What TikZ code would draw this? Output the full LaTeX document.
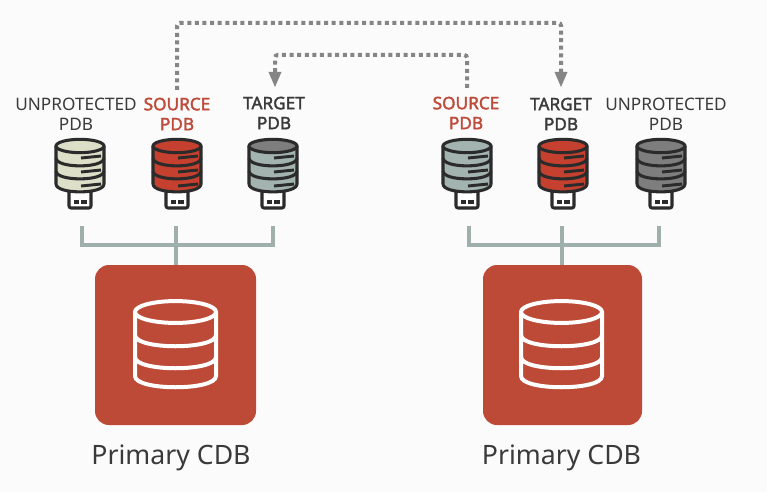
\documentclass[tikz,border=0pt]{standalone}
\usepackage{fontspec}
\setmainfont{Noto Sans}
\newfontfamily\semibold[FakeBold=2]{Noto Sans}
\usetikzlibrary{arrows.meta}
\definecolor{pagebg}{HTML}{FBFBFC}
\definecolor{boxred}{HTML}{BD4A36}
\definecolor{dbred}{HTML}{C5402E}
\definecolor{dbcream}{HTML}{DEDFC8}
\definecolor{dbsage}{HTML}{A3B3B0}
\definecolor{dbgray}{HTML}{7E7E7E}
\definecolor{inkdark}{HTML}{2B2B2B}
\definecolor{textdark}{HTML}{3A3A3A}
\definecolor{textred}{HTML}{BE4A3A}
\definecolor{linksage}{HTML}{9FB0AC}
\definecolor{linkgray}{HTML}{858585}
\tikzset{
  pdblabel/.style={font=\fontsize{12.9pt}{15pt}\selectfont, text=textdark, align=center, inner sep=0pt},
  pdbbold/.style={pdblabel, font=\fontsize{12.9pt}{15pt}\semibold},
  pdbred/.style={pdbbold, text=textred},
  cdblabel/.style={font=\fontsize{20pt}{23pt}\selectfont, text=textdark, inner sep=0pt},
  cdbbox/.style={fill=boxred, rounded corners=10.5pt, draw=none},
  treeline/.style={draw=linksage, line width=3pt},
  dotlink/.style={draw=linkgray, line width=3pt, dash pattern=on 3pt off 2.7pt, rounded corners=2pt},
  tiphead/.style={fill=linkgray, draw=none},
  iconline/.style={draw=white, line width=3pt},
  dbline/.style={draw=inkdark, line width=2.3pt, line join=round},
  dbtick/.style={draw=inkdark, line width=2.2pt}
}
\newcommand{\pdbicon}[3]{%
  % usb plug
  \draw[dbline, fill=white, rounded corners=1.5pt] (#1-11,188) rectangle (#1+11,208);
  \fill[inkdark] (#1-6.5,199.5) rectangle (#1-1,204);
  \fill[inkdark] (#1+1,199.5) rectangle (#1+6.5,204);
  % body
  \draw[dbline, fill=#2] (#1-24,146) -- (#1-24,184) .. controls (#1-24,194.5) and (#1+24,194.5) .. (#1+24,184) -- (#1+24,146) -- cycle;
  \draw[dbline] (#1-24,158) .. controls (#1-24,168.5) and (#1+24,168.5) .. (#1+24,158);
  \draw[dbline] (#1-24,171) .. controls (#1-24,181.5) and (#1+24,181.5) .. (#1+24,171);
  \draw[dbline, fill=#3] (#1,146) ellipse [x radius=18pt, y radius=5pt];
  \draw[dbtick] (#1+1,158) -- (#1+21,156);
  \draw[dbtick] (#1+1,172) -- (#1+21,170);
  \draw[dbtick] (#1+1,186) -- (#1+21,184);
}
\newcommand{\cdbicon}[1]{%
  \draw[iconline] (#1-40.5,312) -- (#1-40.5,376) .. controls (#1-40.5,391) and (#1+40.5,391) .. (#1+40.5,376) -- (#1+40.5,312);
  \draw[iconline] (#1-40.5,335) .. controls (#1-40.5,350) and (#1+40.5,350) .. (#1+40.5,335);
  \draw[iconline] (#1-40.5,357) .. controls (#1-40.5,372) and (#1+40.5,372) .. (#1+40.5,357);
  \draw[iconline] (#1,312) ellipse [x radius=30.4pt, y radius=8.2pt];
}
\begin{document}
\begin{tikzpicture}[x=0.75pt,y=-0.75pt]
\path[use as bounding box, fill=pagebg] (0,0) rectangle (767,492);

% labels
\node[pdblabel] (lunp) at (76,114.5) {UNPROTECTED\\PDB};
\node[pdbred]   (lsrc) at (177,114) {SOURCE\\PDB};
\node[pdbbold]  (ltgt) at (274,113) {TARGET\\PDB};
\node[pdbred]   (rsrc) at (466,113) {SOURCE\\PDB};
\node[pdbbold]  (rtgt) at (561,114) {TARGET\\PDB};
\node[pdblabel] (runp) at (666,114.5) {UNPROTECTED\\PDB};

% database icons
\pdbicon{80}{dbcream}{dbcream}
\pdbicon{177}{dbred}{dbred}
\pdbicon{273}{dbsage}{dbgray}
\pdbicon{467}{dbsage}{dbsage}
\pdbicon{563}{dbred}{dbred}
\pdbicon{661}{dbgray}{dbgray}

% tree connectors
\coordinate (lt1) at (82,226);
\coordinate (lt2) at (176,226);
\coordinate (lt3) at (273,226);
\coordinate (lj) at (176,245);
\coordinate (rt1) at (469,226);
\coordinate (rt2) at (562,226);
\coordinate (rt3) at (659,226);
\coordinate (rj) at (562,245);

% boxes
\node[cdbbox, minimum width=120.75pt, minimum height=120pt, inner sep=0pt] (lbox) at (175.5,345) {};
\node[cdbbox, minimum width=119.25pt, minimum height=120pt, inner sep=0pt] (rbox) at (562.5,345) {};

\draw[treeline] (lt1) |- (lj) -| (lt3);
\draw[treeline] (lt2) -- (lj) -- (lj |- lbox.north);
\draw[treeline] (rt1) |- (rj) -| (rt3);
\draw[treeline] (rt2) -- (rj) -- (rj |- rbox.north);

\cdbicon{175.5}
\cdbicon{561.5}

\node[cdblabel] (lcdb) at (171,457.5) {Primary CDB};
\node[cdblabel] (rcdb) at (561.5,457.5) {Primary CDB};

% dotted transfers
\coordinate (ls) at (177,90);
\coordinate (lst) at (177,23);
\coordinate (rtt) at (561,23);
\coordinate (rta) at (561,74);
\coordinate (rs) at (467,88);
\coordinate (rst) at (467,55);
\coordinate (ltt) at (275,55);
\coordinate (lta) at (275,74);
\draw[dotlink] (ls) -- (lst) -- (rtt) -- (rta);
\draw[dotlink] (rs) -- (rst) -- (ltt) -- (lta);
\fill[tiphead] (rta) ++(-6.5,-2) -- ++(13,0) -- (561,87) -- cycle;
\fill[tiphead] (lta) ++(-6.5,-2) -- ++(13,0) -- (275,87) -- cycle;
\end{tikzpicture}
\end{document}
